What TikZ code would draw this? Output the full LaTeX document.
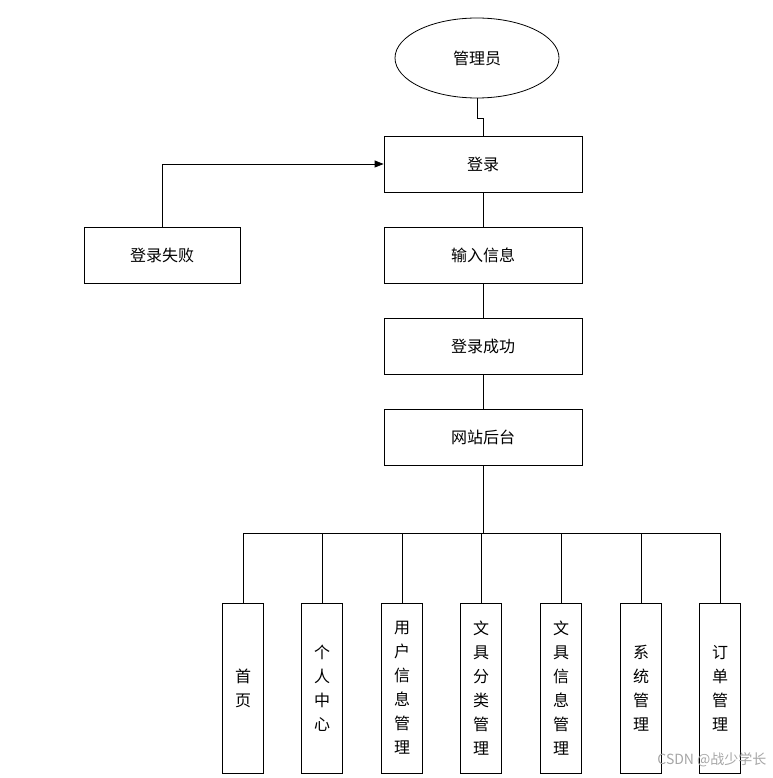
\documentclass[tikz,border=0pt]{standalone}
\usepackage{fontspec}
\setmainfont{Noto Sans CJK SC}
\usetikzlibrary{shapes.geometric,arrows.meta}
\begin{document}
\begin{tikzpicture}[x=1pt,y=-1pt,font=\fontsize{16}{24}\selectfont,
  box/.style={draw,thick,minimum width=198pt,minimum height=56pt,inner sep=0pt},
  vbox/.style={draw,thick,minimum width=41pt,minimum height=170pt,align=center,inner sep=0pt},
  ln/.style={thick}]
\useasboundingbox (0,0) rectangle (772,778);
\node[draw,thick,ellipse,minimum width=164pt,minimum height=80pt] (adm) at (477,58) {管理员};
\node[box] (login) at (483,164) {登录};
\node[box] (input) at (483,255) {输入信息};
\node[box] (ok) at (483,346) {登录成功};
\node[box] (site) at (483,437) {网站后台};
\node[box,minimum width=156pt] (fail) at (162,255) {登录失败};
\coordinate (j1) at (477,118);
\coordinate (j2) at (483,118);
\draw[ln] (adm.south) -- (j1) -- (j2) -- (login.north);
\draw[ln,-{Triangle[length=9pt,width=7pt]}] (fail.north) |- (login.west);
\draw[ln] (login) -- (input);
\draw[ln] (input) -- (ok);
\draw[ln] (ok) -- (site);
\coordinate (bus) at (483,533);
\coordinate (bl) at (243,533);
\coordinate (br) at (720,533);
\draw[ln] (site.south) -- (bus);
\draw[ln] (bl) -- (br);
\foreach \n/\x/\t in {a/243/首\\页, b/322/个\\人\\中\\心, c/402/用\\户\\信\\息\\管\\理, d/481/文\\具\\分\\类\\管\\理, e/561/文\\具\\信\\息\\管\\理, f/641/系\\统\\管\\理, g/720/订\\单\\管\\理}{
  \node[vbox] (\n) at (\x,688) {\t};
  \draw[ln] (\n.north) -- (\x,533);
}
\node[text=gray!70,font=\fontsize{14}{16}\selectfont,anchor=east] (wm) at (770,760) {CSDN @战少学长};
\end{tikzpicture}
\end{document}
